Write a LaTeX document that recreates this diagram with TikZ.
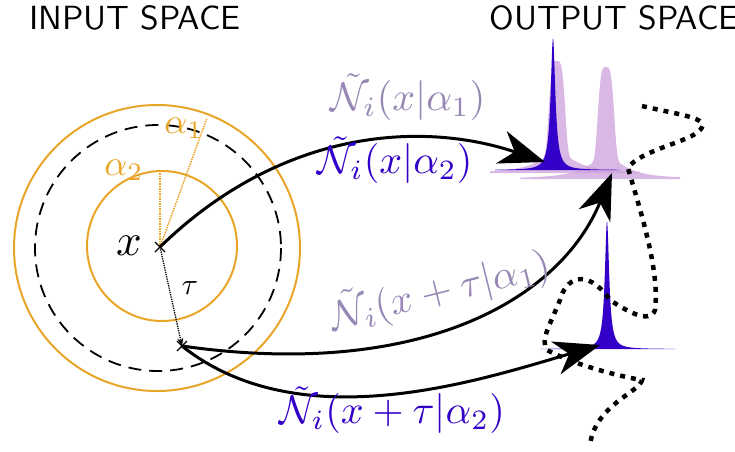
\documentclass[tikz,border=0pt]{standalone}
\usepackage{amsmath}
\usepackage{amssymb}
\usetikzlibrary{arrows.meta}
\definecolor{ring}{RGB}{232,165,40}
\definecolor{deep}{RGB}{50,0,200}
\definecolor{soft}{RGB}{150,135,180}
\definecolor{pale}{RGB}{205,160,220}
\tikzstyle{map}=[draw, line width=3pt, -{Stealth[length=46pt,width=34pt,inset=14pt]}]
\tikzstyle{title}=[font=\sffamily, scale=3.35, transform shape]
\tikzstyle{lab}=[scale=4.0, transform shape]
\newcommand{\crossat}[1]{\draw[line width=1.3pt] ($(#1)+(-5,-5)$) -- ($(#1)+(5,5)$) ($(#1)+(-5,5)$) -- ($(#1)+(5,-5)$);}
\usetikzlibrary{calc}
\begin{document}
\begin{tikzpicture}[x=1pt, y=-1pt]
    \useasboundingbox (0,0) rectangle (735,451);

    \node[title] (tin) at (135,18) {INPUT SPACE};
    \node[title] (tout) at (614,18) {OUTPUT SPACE};

    % rings
    \coordinate (cx) at (160,247);
    \coordinate (ct) at (182,346);
    \draw[ring, line width=2pt] (157,248) circle (143);
    \draw[ring, line width=2pt] (162,246) circle (75);
    \draw[line width=1.8pt, dash pattern=on 13pt off 8pt] (158,248) circle (123);
    \coordinate (a1) at (207,118);
    \coordinate (a2) at (160,172);
    \draw[ring, densely dotted, line width=1.5pt] (cx) -- (a1);
    \draw[ring, densely dotted, line width=1.5pt] (cx) -- (a2);
    \node[ring, scale=3.6, transform shape] (la1) at (184,128) {$\alpha_1$};
    \node[ring, scale=3.6, transform shape] (la2) at (124,170) {$\alpha_2$};
    \node[scale=4.5, transform shape] (lx) at (129,246) {$x$};
    \crossat{cx}
    \crossat{ct}
    \draw[densely dotted, line width=1.3pt, -{Stealth[length=8pt]}] (cx) -- (ct);
    \node[scale=3, transform shape] (ltau) at (190,288) {$\tau$};

    % distributions
    \fill[pale, opacity=0.75, domain=490:640, samples=200]
        (490,173) -- plot (\x, {173-92*exp(-((\x-557)/9)^4)-20/(1+((\x-557)/22)^2)}) -- (640,173) -- cycle;
    \fill[pale, opacity=0.75, domain=520:680, samples=200]
        (520,179) -- plot (\x, {179-90*exp(-((\x-606)/9)^4)-22/(1+((\x-606)/22)^2)}) -- (680,179) -- cycle;
    \fill[deep, domain=495:620, samples=300]
        (495,170) -- plot (\x, {170-132/(1+((\x-553)/2.8)^2)}) -- (620,170) -- cycle;
    \fill[deep, domain=540:675, samples=300]
        (540,349) -- plot (\x, {349-128/(1+((\x-607)/2.6)^2)}) -- (675,349) -- cycle;

    % dotted path
    \draw[line width=4.5pt, dash pattern=on 5pt off 6pt]
        (642,106) .. controls (680,115) and (712,118) .. (700,130)
        .. controls (690,142) and (640,150) .. (628,168)
        .. controls (640,210) and (660,270) .. (655,310)
        .. controls (650,325) and (625,310) .. (610,300)
        .. controls (585,265) and (565,280) .. (560,300)
        .. controls (550,325) and (540,340) .. (547,350)
        .. controls (585,370) and (640,380) .. (642,380)
        .. controls (640,392) and (595,405) .. (590,445);

    % maps
    \coordinate (t1) at (545,162);
    \coordinate (t2) at (612,173);
    \coordinate (t3) at (600,345);
    \draw[map] (cx) .. controls (280,130) and (420,120) .. (t1);
    \draw[map] (ct) .. controls (420,380) and (560,300) .. (t2);
    \draw[map] (ct) .. controls (300,440) and (480,380) .. (t3);

    \node[lab, soft] (n1) at (408,97) {$\tilde{\mathcal{N}}_i(x|\alpha_1)$};
    \node[lab, deep] (n2) at (395,160) {$\tilde{\mathcal{N}}_i(x|\alpha_2)$};
    \node[lab, soft, rotate=14] (n3) at (440,290) {$\tilde{\mathcal{N}}_i(x+\tau|\alpha_1)$};
    \node[lab, deep] (n4) at (392,410) {$\tilde{\mathcal{N}}_i(x+\tau|\alpha_2)$};
\end{tikzpicture}
\end{document}
